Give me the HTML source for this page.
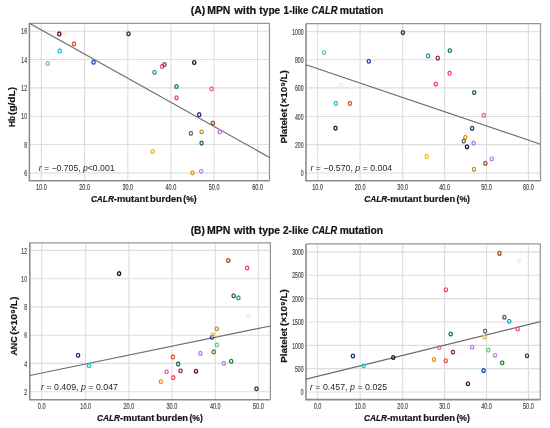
<!DOCTYPE html><html><head><meta charset="utf-8"><title>CALR scatter plots</title><style>
html,body{margin:0;padding:0;background:#fff;}svg{display:block;}
.tk{font-family:"Liberation Sans", Arial, sans-serif;font-size:9.2px;fill:#444;stroke:#444;stroke-width:0.18px;}
.lb{font-family:"Liberation Sans", Arial, sans-serif;font-size:9.6px;font-weight:bold;fill:#151515;stroke:#151515;stroke-width:0.2px;}
.rt{font-family:"Liberation Sans", Arial, sans-serif;font-size:8.8px;fill:#262626;}
</style></head><body>
<svg width="550" height="428" viewBox="0 0 550 428">
<rect width="550" height="428" fill="#fff"/>
<text class="lb" x="190.7" y="13.6" textLength="14.6" lengthAdjust="spacingAndGlyphs" style="font-size:10px">(A)</text>
<text class="lb" x="207.2" y="13.6" textLength="23.2" lengthAdjust="spacingAndGlyphs" style="font-size:10px">MPN</text>
<text class="lb" x="234.3" y="13.6" textLength="22.0" lengthAdjust="spacingAndGlyphs" style="font-size:10px">with</text>
<text class="lb" x="259.3" y="13.6" textLength="21.0" lengthAdjust="spacingAndGlyphs" style="font-size:10px">type</text>
<text class="lb" x="283.6" y="13.6" textLength="24.8" lengthAdjust="spacingAndGlyphs" style="font-size:10px">1-like</text>
<text class="lb" x="311.6" y="13.6" textLength="25.8" lengthAdjust="spacingAndGlyphs" style="font-size:10px;font-style:italic">CALR</text>
<text class="lb" x="339.7" y="13.6" textLength="43.7" lengthAdjust="spacingAndGlyphs" style="font-size:10px">mutation</text>
<text class="lb" x="190.7" y="233.7" textLength="14.1" lengthAdjust="spacingAndGlyphs" style="font-size:10px">(B)</text>
<text class="lb" x="207.0" y="233.7" textLength="23.4" lengthAdjust="spacingAndGlyphs" style="font-size:10px">MPN</text>
<text class="lb" x="233.9" y="233.7" textLength="21.9" lengthAdjust="spacingAndGlyphs" style="font-size:10px">with</text>
<text class="lb" x="258.8" y="233.7" textLength="21.3" lengthAdjust="spacingAndGlyphs" style="font-size:10px">type</text>
<text class="lb" x="283.0" y="233.7" textLength="25.6" lengthAdjust="spacingAndGlyphs" style="font-size:10px">2-like</text>
<text class="lb" x="311.9" y="233.7" textLength="25.3" lengthAdjust="spacingAndGlyphs" style="font-size:10px;font-style:italic">CALR</text>
<text class="lb" x="339.7" y="233.7" textLength="43.4" lengthAdjust="spacingAndGlyphs" style="font-size:10px">mutation</text>
<g>
<line x1="41.4" y1="23.3" x2="41.4" y2="180.8" stroke="#dedede" stroke-width="1.15"/>
<line x1="84.6" y1="23.3" x2="84.6" y2="180.8" stroke="#dedede" stroke-width="1.15"/>
<line x1="127.8" y1="23.3" x2="127.8" y2="180.8" stroke="#dedede" stroke-width="1.15"/>
<line x1="170.9" y1="23.3" x2="170.9" y2="180.8" stroke="#dedede" stroke-width="1.15"/>
<line x1="214.1" y1="23.3" x2="214.1" y2="180.8" stroke="#dedede" stroke-width="1.15"/>
<line x1="257.6" y1="23.3" x2="257.6" y2="180.8" stroke="#dedede" stroke-width="1.15"/>
<line x1="29.4" y1="31.2" x2="269.5" y2="31.2" stroke="#dedede" stroke-width="1.15"/>
<line x1="29.4" y1="59.5" x2="269.5" y2="59.5" stroke="#dedede" stroke-width="1.15"/>
<line x1="29.4" y1="87.8" x2="269.5" y2="87.8" stroke="#dedede" stroke-width="1.15"/>
<line x1="29.4" y1="116.2" x2="269.5" y2="116.2" stroke="#dedede" stroke-width="1.15"/>
<line x1="29.4" y1="144.5" x2="269.5" y2="144.5" stroke="#dedede" stroke-width="1.15"/>
<line x1="29.4" y1="172.8" x2="269.5" y2="172.8" stroke="#dedede" stroke-width="1.15"/>
<polyline points="29.4,23.3 269.5,23.3 269.5,180.8" fill="none" stroke="#969696" stroke-width="1.25"/>
<polyline points="29.4,23.3 29.4,180.8 269.5,180.8" fill="none" stroke="#8a8a8a" stroke-width="1.55"/>
<text class="tk" x="0.0" y="189.9" text-anchor="middle" transform="translate(41.4,0) scale(0.6,1) translate(0.0,0)">10.0</text>
<text class="tk" x="0.0" y="189.9" text-anchor="middle" transform="translate(84.6,0) scale(0.6,1) translate(0.0,0)">20.0</text>
<text class="tk" x="0.0" y="189.9" text-anchor="middle" transform="translate(127.8,0) scale(0.6,1) translate(0.0,0)">30.0</text>
<text class="tk" x="0.0" y="189.9" text-anchor="middle" transform="translate(170.9,0) scale(0.6,1) translate(0.0,0)">40.0</text>
<text class="tk" x="0.0" y="189.9" text-anchor="middle" transform="translate(214.1,0) scale(0.6,1) translate(0.0,0)">50.0</text>
<text class="tk" x="0.0" y="189.9" text-anchor="middle" transform="translate(257.6,0) scale(0.6,1) translate(0.0,0)">60.0</text>
<text class="tk" x="0" y="34.5" text-anchor="end" transform="translate(27.0,0) scale(0.56,1)">16</text>
<text class="tk" x="0" y="62.8" text-anchor="end" transform="translate(27.0,0) scale(0.56,1)">14</text>
<text class="tk" x="0" y="91.1" text-anchor="end" transform="translate(27.0,0) scale(0.56,1)">12</text>
<text class="tk" x="0" y="119.5" text-anchor="end" transform="translate(27.0,0) scale(0.56,1)">10</text>
<text class="tk" x="0" y="147.8" text-anchor="end" transform="translate(27.0,0) scale(0.56,1)">8</text>
<text class="tk" x="0" y="176.1" text-anchor="end" transform="translate(27.0,0) scale(0.56,1)">6</text>
<line x1="29.4" y1="23.2" x2="269.5" y2="157.4" stroke="#6c6c6c" stroke-width="1.2"/>
<ellipse cx="59.3" cy="33.9" rx="1.62" ry="1.9" fill="none" stroke="#5e0c1a" stroke-width="1.35"/>
<ellipse cx="64.9" cy="32.5" rx="1.62" ry="1.9" fill="none" stroke="#f2ecd4" stroke-width="1.35"/>
<ellipse cx="74.0" cy="43.9" rx="1.62" ry="1.9" fill="none" stroke="#e05530" stroke-width="1.35"/>
<ellipse cx="59.7" cy="50.9" rx="1.62" ry="1.9" fill="none" stroke="#20c4d4" stroke-width="1.35"/>
<ellipse cx="47.7" cy="63.5" rx="1.62" ry="1.9" fill="none" stroke="#5ccf98" stroke-width="1.35"/>
<ellipse cx="93.5" cy="62.2" rx="1.62" ry="1.9" fill="none" stroke="#2040c0" stroke-width="1.35"/>
<ellipse cx="128.5" cy="33.7" rx="1.62" ry="1.9" fill="none" stroke="#303030" stroke-width="1.35"/>
<ellipse cx="154.5" cy="72.3" rx="1.62" ry="1.9" fill="none" stroke="#20a0a8" stroke-width="1.35"/>
<ellipse cx="162.1" cy="66.4" rx="1.62" ry="1.9" fill="none" stroke="#f05060" stroke-width="1.35"/>
<ellipse cx="164.5" cy="64.5" rx="1.62" ry="1.9" fill="none" stroke="#a0206c" stroke-width="1.35"/>
<ellipse cx="194.2" cy="62.5" rx="1.62" ry="1.9" fill="none" stroke="#181818" stroke-width="1.35"/>
<ellipse cx="176.5" cy="86.5" rx="1.62" ry="1.9" fill="none" stroke="#208040" stroke-width="1.35"/>
<ellipse cx="211.6" cy="88.9" rx="1.62" ry="1.9" fill="none" stroke="#f060a0" stroke-width="1.35"/>
<ellipse cx="176.5" cy="97.8" rx="1.62" ry="1.9" fill="none" stroke="#f04858" stroke-width="1.35"/>
<ellipse cx="199.2" cy="114.7" rx="1.62" ry="1.9" fill="none" stroke="#223a62" stroke-width="1.35"/>
<ellipse cx="212.9" cy="123.0" rx="1.62" ry="1.9" fill="none" stroke="#a0481a" stroke-width="1.35"/>
<ellipse cx="219.7" cy="131.8" rx="1.62" ry="1.9" fill="none" stroke="#c070f0" stroke-width="1.35"/>
<ellipse cx="190.9" cy="133.3" rx="1.62" ry="1.9" fill="none" stroke="#687050" stroke-width="1.35"/>
<ellipse cx="201.6" cy="131.8" rx="1.62" ry="1.9" fill="none" stroke="#c09622" stroke-width="1.35"/>
<ellipse cx="201.6" cy="143.1" rx="1.62" ry="1.9" fill="none" stroke="#206868" stroke-width="1.35"/>
<ellipse cx="152.7" cy="151.6" rx="1.62" ry="1.9" fill="none" stroke="#e8c020" stroke-width="1.35"/>
<ellipse cx="192.4" cy="172.8" rx="1.62" ry="1.9" fill="none" stroke="#f09020" stroke-width="1.35"/>
<ellipse cx="201.1" cy="171.3" rx="1.62" ry="1.9" fill="none" stroke="#c080f0" stroke-width="1.35"/>
<text class="rt" x="38.8" y="171.3" textLength="75.7" lengthAdjust="spacingAndGlyphs"><tspan font-style="italic">r</tspan> = −0.705, <tspan font-style="italic">p</tspan><0.001</text>
<text class="lb" x="90.9" y="201.9" textLength="23.0" lengthAdjust="spacingAndGlyphs" style="font-size:9.5px;font-style:italic">CALR</text>
<text class="lb" x="113.8" y="201.9" textLength="34.5" lengthAdjust="spacingAndGlyphs" style="font-size:9.5px">-mutant</text>
<text class="lb" x="150.1" y="201.9" textLength="31.8" lengthAdjust="spacingAndGlyphs" style="font-size:9.5px">burden</text>
<text class="lb" x="183.3" y="201.9" textLength="13.4" lengthAdjust="spacingAndGlyphs" style="font-size:9.5px">(%)</text>
<text class="lb" x="0" y="0" transform="translate(14.7,127.0) rotate(-90)" textLength="11.1" lengthAdjust="spacingAndGlyphs" style="font-size:9.6px">Hb</text>
<text class="lb" x="0" y="0" transform="translate(14.7,114.9) rotate(-90)" textLength="27.9" lengthAdjust="spacingAndGlyphs" style="font-size:9.6px">(g/dL)</text>
</g>
<g>
<line x1="317.6" y1="23.7" x2="317.6" y2="180.7" stroke="#dedede" stroke-width="1.15"/>
<line x1="360.1" y1="23.7" x2="360.1" y2="180.7" stroke="#dedede" stroke-width="1.15"/>
<line x1="402.7" y1="23.7" x2="402.7" y2="180.7" stroke="#dedede" stroke-width="1.15"/>
<line x1="444.6" y1="23.7" x2="444.6" y2="180.7" stroke="#dedede" stroke-width="1.15"/>
<line x1="486.5" y1="23.7" x2="486.5" y2="180.7" stroke="#dedede" stroke-width="1.15"/>
<line x1="528.4" y1="23.7" x2="528.4" y2="180.7" stroke="#dedede" stroke-width="1.15"/>
<line x1="306.0" y1="31.6" x2="540.5" y2="31.6" stroke="#dedede" stroke-width="1.15"/>
<line x1="306.0" y1="59.7" x2="540.5" y2="59.7" stroke="#dedede" stroke-width="1.15"/>
<line x1="306.0" y1="87.8" x2="540.5" y2="87.8" stroke="#dedede" stroke-width="1.15"/>
<line x1="306.0" y1="116.5" x2="540.5" y2="116.5" stroke="#dedede" stroke-width="1.15"/>
<line x1="306.0" y1="144.6" x2="540.5" y2="144.6" stroke="#dedede" stroke-width="1.15"/>
<line x1="306.0" y1="173.0" x2="540.5" y2="173.0" stroke="#dedede" stroke-width="1.15"/>
<polyline points="306.0,23.7 540.5,23.7 540.5,180.7" fill="none" stroke="#969696" stroke-width="1.25"/>
<polyline points="306.0,23.7 306.0,180.7 540.5,180.7" fill="none" stroke="#8a8a8a" stroke-width="1.55"/>
<text class="tk" x="0.0" y="189.8" text-anchor="middle" transform="translate(317.6,0) scale(0.6,1) translate(0.0,0)">10.0</text>
<text class="tk" x="0.0" y="189.8" text-anchor="middle" transform="translate(360.1,0) scale(0.6,1) translate(0.0,0)">20.0</text>
<text class="tk" x="0.0" y="189.8" text-anchor="middle" transform="translate(402.7,0) scale(0.6,1) translate(0.0,0)">30.0</text>
<text class="tk" x="0.0" y="189.8" text-anchor="middle" transform="translate(444.6,0) scale(0.6,1) translate(0.0,0)">40.0</text>
<text class="tk" x="0.0" y="189.8" text-anchor="middle" transform="translate(486.5,0) scale(0.6,1) translate(0.0,0)">50.0</text>
<text class="tk" x="0.0" y="189.8" text-anchor="middle" transform="translate(528.4,0) scale(0.6,1) translate(0.0,0)">60.0</text>
<text class="tk" x="0" y="34.9" text-anchor="end" transform="translate(303.6,0) scale(0.56,1)">1000</text>
<text class="tk" x="0" y="63.0" text-anchor="end" transform="translate(303.6,0) scale(0.56,1)">800</text>
<text class="tk" x="0" y="91.1" text-anchor="end" transform="translate(303.6,0) scale(0.56,1)">600</text>
<text class="tk" x="0" y="119.8" text-anchor="end" transform="translate(303.6,0) scale(0.56,1)">400</text>
<text class="tk" x="0" y="147.9" text-anchor="end" transform="translate(303.6,0) scale(0.56,1)">200</text>
<text class="tk" x="0" y="176.3" text-anchor="end" transform="translate(303.6,0) scale(0.56,1)">0</text>
<line x1="306.0" y1="64.7" x2="540.5" y2="144.2" stroke="#6c6c6c" stroke-width="1.2"/>
<ellipse cx="402.9" cy="32.6" rx="1.62" ry="1.9" fill="none" stroke="#303030" stroke-width="1.35"/>
<ellipse cx="324.1" cy="52.5" rx="1.62" ry="1.9" fill="none" stroke="#5ccf98" stroke-width="1.35"/>
<ellipse cx="368.8" cy="61.2" rx="1.62" ry="1.9" fill="none" stroke="#2040c0" stroke-width="1.35"/>
<ellipse cx="340.9" cy="85.4" rx="1.62" ry="1.9" fill="none" stroke="#f2ecd4" stroke-width="1.35"/>
<ellipse cx="335.9" cy="103.4" rx="1.62" ry="1.9" fill="none" stroke="#20c4d4" stroke-width="1.35"/>
<ellipse cx="349.9" cy="103.4" rx="1.62" ry="1.9" fill="none" stroke="#e05530" stroke-width="1.35"/>
<ellipse cx="428.2" cy="55.9" rx="1.62" ry="1.9" fill="none" stroke="#20a0a8" stroke-width="1.35"/>
<ellipse cx="437.8" cy="58.1" rx="1.62" ry="1.9" fill="none" stroke="#a0206c" stroke-width="1.35"/>
<ellipse cx="449.8" cy="50.5" rx="1.62" ry="1.9" fill="none" stroke="#208040" stroke-width="1.35"/>
<ellipse cx="449.6" cy="73.2" rx="1.62" ry="1.9" fill="none" stroke="#f05060" stroke-width="1.35"/>
<ellipse cx="435.8" cy="84.1" rx="1.62" ry="1.9" fill="none" stroke="#f04858" stroke-width="1.35"/>
<ellipse cx="474.2" cy="92.6" rx="1.62" ry="1.9" fill="none" stroke="#206868" stroke-width="1.35"/>
<ellipse cx="335.5" cy="128.1" rx="1.62" ry="1.9" fill="none" stroke="#5e0c1a" stroke-width="1.35"/>
<ellipse cx="483.8" cy="115.4" rx="1.62" ry="1.9" fill="none" stroke="#f060a0" stroke-width="1.35"/>
<ellipse cx="472.1" cy="128.3" rx="1.62" ry="1.9" fill="none" stroke="#223a62" stroke-width="1.35"/>
<ellipse cx="465.3" cy="137.4" rx="1.62" ry="1.9" fill="none" stroke="#f09020" stroke-width="1.35"/>
<ellipse cx="463.8" cy="141.1" rx="1.62" ry="1.9" fill="none" stroke="#687050" stroke-width="1.35"/>
<ellipse cx="473.6" cy="143.1" rx="1.62" ry="1.9" fill="none" stroke="#c070f0" stroke-width="1.35"/>
<ellipse cx="467.0" cy="146.8" rx="1.62" ry="1.9" fill="none" stroke="#181818" stroke-width="1.35"/>
<ellipse cx="426.7" cy="156.4" rx="1.62" ry="1.9" fill="none" stroke="#e8c020" stroke-width="1.35"/>
<ellipse cx="491.7" cy="158.8" rx="1.62" ry="1.9" fill="none" stroke="#c080f0" stroke-width="1.35"/>
<ellipse cx="485.4" cy="163.2" rx="1.62" ry="1.9" fill="none" stroke="#a0481a" stroke-width="1.35"/>
<ellipse cx="474.0" cy="169.3" rx="1.62" ry="1.9" fill="none" stroke="#c09622" stroke-width="1.35"/>
<text class="rt" x="310.4" y="170.8" textLength="81.8" lengthAdjust="spacingAndGlyphs"><tspan font-style="italic">r</tspan> = −0.570, <tspan font-style="italic">p</tspan> = 0.004</text>
<text class="lb" x="364.2" y="202.0" textLength="23.0" lengthAdjust="spacingAndGlyphs" style="font-size:9.5px;font-style:italic">CALR</text>
<text class="lb" x="387.1" y="202.0" textLength="34.5" lengthAdjust="spacingAndGlyphs" style="font-size:9.5px">-mutant</text>
<text class="lb" x="423.4" y="202.0" textLength="31.8" lengthAdjust="spacingAndGlyphs" style="font-size:9.5px">burden</text>
<text class="lb" x="456.6" y="202.0" textLength="13.4" lengthAdjust="spacingAndGlyphs" style="font-size:9.5px">(%)</text>
<text class="lb" x="0" y="0" transform="translate(286.9,143.5) rotate(-90)" textLength="34.8" lengthAdjust="spacingAndGlyphs" style="font-size:9.6px">Platelet</text>
<text class="lb" x="0" y="0" transform="translate(286.9,106.9) rotate(-90)" textLength="36.8" lengthAdjust="spacingAndGlyphs" style="font-size:9.6px">(×10⁹/L)</text>
</g>
<g>
<line x1="41.7" y1="242.8" x2="41.7" y2="399.8" stroke="#dedede" stroke-width="1.15"/>
<line x1="85.7" y1="242.8" x2="85.7" y2="399.8" stroke="#dedede" stroke-width="1.15"/>
<line x1="128.9" y1="242.8" x2="128.9" y2="399.8" stroke="#dedede" stroke-width="1.15"/>
<line x1="171.9" y1="242.8" x2="171.9" y2="399.8" stroke="#dedede" stroke-width="1.15"/>
<line x1="215.3" y1="242.8" x2="215.3" y2="399.8" stroke="#dedede" stroke-width="1.15"/>
<line x1="258.4" y1="242.8" x2="258.4" y2="399.8" stroke="#dedede" stroke-width="1.15"/>
<line x1="29.8" y1="250.3" x2="270.4" y2="250.3" stroke="#dedede" stroke-width="1.15"/>
<line x1="29.8" y1="278.7" x2="270.4" y2="278.7" stroke="#dedede" stroke-width="1.15"/>
<line x1="29.8" y1="306.9" x2="270.4" y2="306.9" stroke="#dedede" stroke-width="1.15"/>
<line x1="29.8" y1="335.2" x2="270.4" y2="335.2" stroke="#dedede" stroke-width="1.15"/>
<line x1="29.8" y1="363.4" x2="270.4" y2="363.4" stroke="#dedede" stroke-width="1.15"/>
<line x1="29.8" y1="391.7" x2="270.4" y2="391.7" stroke="#dedede" stroke-width="1.15"/>
<polyline points="29.8,242.8 270.4,242.8 270.4,399.8" fill="none" stroke="#969696" stroke-width="1.25"/>
<polyline points="29.8,242.8 29.8,399.8 270.4,399.8" fill="none" stroke="#8a8a8a" stroke-width="1.55"/>
<text class="tk" x="0.0" y="408.9" text-anchor="middle" transform="translate(41.7,0) scale(0.6,1) translate(0.0,0)">0.0</text>
<text class="tk" x="0.0" y="408.9" text-anchor="middle" transform="translate(85.7,0) scale(0.6,1) translate(0.0,0)">10.0</text>
<text class="tk" x="0.0" y="408.9" text-anchor="middle" transform="translate(128.9,0) scale(0.6,1) translate(0.0,0)">20.0</text>
<text class="tk" x="0.0" y="408.9" text-anchor="middle" transform="translate(171.9,0) scale(0.6,1) translate(0.0,0)">30.0</text>
<text class="tk" x="0.0" y="408.9" text-anchor="middle" transform="translate(215.3,0) scale(0.6,1) translate(0.0,0)">40.0</text>
<text class="tk" x="0.0" y="408.9" text-anchor="middle" transform="translate(258.4,0) scale(0.6,1) translate(0.0,0)">50.0</text>
<text class="tk" x="0" y="253.6" text-anchor="end" transform="translate(27.0,0) scale(0.56,1)">12</text>
<text class="tk" x="0" y="282.0" text-anchor="end" transform="translate(27.0,0) scale(0.56,1)">10</text>
<text class="tk" x="0" y="310.2" text-anchor="end" transform="translate(27.0,0) scale(0.56,1)">8</text>
<text class="tk" x="0" y="338.5" text-anchor="end" transform="translate(27.0,0) scale(0.56,1)">6</text>
<text class="tk" x="0" y="366.7" text-anchor="end" transform="translate(27.0,0) scale(0.56,1)">4</text>
<text class="tk" x="0" y="395.0" text-anchor="end" transform="translate(27.0,0) scale(0.56,1)">2</text>
<line x1="29.8" y1="375.5" x2="270.4" y2="326.0" stroke="#6c6c6c" stroke-width="1.2"/>
<ellipse cx="119.1" cy="273.6" rx="1.62" ry="1.9" fill="none" stroke="#181818" stroke-width="1.35"/>
<ellipse cx="228.3" cy="260.5" rx="1.62" ry="1.9" fill="none" stroke="#a0481a" stroke-width="1.35"/>
<ellipse cx="247.1" cy="268.0" rx="1.62" ry="1.9" fill="none" stroke="#f04858" stroke-width="1.35"/>
<ellipse cx="233.6" cy="295.7" rx="1.62" ry="1.9" fill="none" stroke="#505050" stroke-width="1.35"/>
<ellipse cx="238.4" cy="297.9" rx="1.62" ry="1.9" fill="none" stroke="#20a0a8" stroke-width="1.35"/>
<ellipse cx="248.4" cy="316.0" rx="1.62" ry="1.9" fill="none" stroke="#f2ecd4" stroke-width="1.35"/>
<ellipse cx="78.1" cy="355.3" rx="1.62" ry="1.9" fill="none" stroke="#1a2a80" stroke-width="1.35"/>
<ellipse cx="89.0" cy="365.8" rx="1.62" ry="1.9" fill="none" stroke="#20c4d4" stroke-width="1.35"/>
<ellipse cx="216.8" cy="328.7" rx="1.62" ry="1.9" fill="none" stroke="#c09622" stroke-width="1.35"/>
<ellipse cx="212.0" cy="337.2" rx="1.62" ry="1.9" fill="none" stroke="#2040c0" stroke-width="1.35"/>
<ellipse cx="212.8" cy="334.8" rx="1.62" ry="1.9" fill="none" stroke="#e8c020" stroke-width="1.35"/>
<ellipse cx="216.8" cy="344.9" rx="1.62" ry="1.9" fill="none" stroke="#5ccf98" stroke-width="1.35"/>
<ellipse cx="200.4" cy="353.4" rx="1.62" ry="1.9" fill="none" stroke="#c070f0" stroke-width="1.35"/>
<ellipse cx="213.7" cy="351.9" rx="1.62" ry="1.9" fill="none" stroke="#687050" stroke-width="1.35"/>
<ellipse cx="172.9" cy="356.9" rx="1.62" ry="1.9" fill="none" stroke="#e05530" stroke-width="1.35"/>
<ellipse cx="178.1" cy="363.9" rx="1.62" ry="1.9" fill="none" stroke="#206868" stroke-width="1.35"/>
<ellipse cx="223.8" cy="363.4" rx="1.62" ry="1.9" fill="none" stroke="#c080f0" stroke-width="1.35"/>
<ellipse cx="231.2" cy="361.2" rx="1.62" ry="1.9" fill="none" stroke="#208040" stroke-width="1.35"/>
<ellipse cx="166.6" cy="371.7" rx="1.62" ry="1.9" fill="none" stroke="#f060a0" stroke-width="1.35"/>
<ellipse cx="180.5" cy="370.8" rx="1.62" ry="1.9" fill="none" stroke="#a0206c" stroke-width="1.35"/>
<ellipse cx="196.0" cy="371.3" rx="1.62" ry="1.9" fill="none" stroke="#5e0c1a" stroke-width="1.35"/>
<ellipse cx="173.3" cy="377.6" rx="1.62" ry="1.9" fill="none" stroke="#f05060" stroke-width="1.35"/>
<ellipse cx="160.9" cy="381.5" rx="1.62" ry="1.9" fill="none" stroke="#f09020" stroke-width="1.35"/>
<ellipse cx="256.5" cy="388.7" rx="1.62" ry="1.9" fill="none" stroke="#223a62" stroke-width="1.35"/>
<text class="rt" x="41.0" y="389.8" textLength="77.0" lengthAdjust="spacingAndGlyphs"><tspan font-style="italic">r</tspan> = 0.409, <tspan font-style="italic">p</tspan> = 0.047</text>
<text class="lb" x="97.1" y="421.2" textLength="23.0" lengthAdjust="spacingAndGlyphs" style="font-size:9.5px;font-style:italic">CALR</text>
<text class="lb" x="120.0" y="421.2" textLength="34.5" lengthAdjust="spacingAndGlyphs" style="font-size:9.5px">-mutant</text>
<text class="lb" x="156.3" y="421.2" textLength="31.8" lengthAdjust="spacingAndGlyphs" style="font-size:9.5px">burden</text>
<text class="lb" x="189.5" y="421.2" textLength="13.4" lengthAdjust="spacingAndGlyphs" style="font-size:9.5px">(%)</text>
<text class="lb" x="0" y="0" transform="translate(16.5,355.6) rotate(-90)" textLength="19.3" lengthAdjust="spacingAndGlyphs" style="font-size:9.6px">ANC</text>
<text class="lb" x="0" y="0" transform="translate(16.5,334.8) rotate(-90)" textLength="38.3" lengthAdjust="spacingAndGlyphs" style="font-size:9.6px">(×10⁹/L)</text>
</g>
<g>
<line x1="317.5" y1="243.9" x2="317.5" y2="399.6" stroke="#dedede" stroke-width="1.15"/>
<line x1="360.1" y1="243.9" x2="360.1" y2="399.6" stroke="#dedede" stroke-width="1.15"/>
<line x1="402.7" y1="243.9" x2="402.7" y2="399.6" stroke="#dedede" stroke-width="1.15"/>
<line x1="444.6" y1="243.9" x2="444.6" y2="399.6" stroke="#dedede" stroke-width="1.15"/>
<line x1="486.5" y1="243.9" x2="486.5" y2="399.6" stroke="#dedede" stroke-width="1.15"/>
<line x1="528.4" y1="243.9" x2="528.4" y2="399.6" stroke="#dedede" stroke-width="1.15"/>
<line x1="306.0" y1="251.8" x2="540.3" y2="251.8" stroke="#dedede" stroke-width="1.15"/>
<line x1="306.0" y1="275.2" x2="540.3" y2="275.2" stroke="#dedede" stroke-width="1.15"/>
<line x1="306.0" y1="298.6" x2="540.3" y2="298.6" stroke="#dedede" stroke-width="1.15"/>
<line x1="306.0" y1="322.0" x2="540.3" y2="322.0" stroke="#dedede" stroke-width="1.15"/>
<line x1="306.0" y1="345.4" x2="540.3" y2="345.4" stroke="#dedede" stroke-width="1.15"/>
<line x1="306.0" y1="368.6" x2="540.3" y2="368.6" stroke="#dedede" stroke-width="1.15"/>
<line x1="306.0" y1="392.0" x2="540.3" y2="392.0" stroke="#dedede" stroke-width="1.15"/>
<polyline points="306.0,243.9 540.3,243.9 540.3,399.6" fill="none" stroke="#969696" stroke-width="1.25"/>
<polyline points="306.0,243.9 306.0,399.6 540.3,399.6" fill="none" stroke="#8a8a8a" stroke-width="1.55"/>
<text class="tk" x="0.0" y="408.7" text-anchor="middle" transform="translate(317.5,0) scale(0.6,1) translate(0.0,0)">0.0</text>
<text class="tk" x="0.0" y="408.7" text-anchor="middle" transform="translate(360.1,0) scale(0.6,1) translate(0.0,0)">10.0</text>
<text class="tk" x="0.0" y="408.7" text-anchor="middle" transform="translate(402.7,0) scale(0.6,1) translate(0.0,0)">20.0</text>
<text class="tk" x="0.0" y="408.7" text-anchor="middle" transform="translate(444.6,0) scale(0.6,1) translate(0.0,0)">30.0</text>
<text class="tk" x="0.0" y="408.7" text-anchor="middle" transform="translate(486.5,0) scale(0.6,1) translate(0.0,0)">40.0</text>
<text class="tk" x="0.0" y="408.7" text-anchor="middle" transform="translate(528.4,0) scale(0.6,1) translate(0.0,0)">50.0</text>
<text class="tk" x="0" y="255.1" text-anchor="end" transform="translate(303.6,0) scale(0.56,1)">3000</text>
<text class="tk" x="0" y="278.5" text-anchor="end" transform="translate(303.6,0) scale(0.56,1)">2500</text>
<text class="tk" x="0" y="301.9" text-anchor="end" transform="translate(303.6,0) scale(0.56,1)">2000</text>
<text class="tk" x="0" y="325.3" text-anchor="end" transform="translate(303.6,0) scale(0.56,1)">1500</text>
<text class="tk" x="0" y="348.7" text-anchor="end" transform="translate(303.6,0) scale(0.56,1)">1000</text>
<text class="tk" x="0" y="371.9" text-anchor="end" transform="translate(303.6,0) scale(0.56,1)">500</text>
<text class="tk" x="0" y="395.3" text-anchor="end" transform="translate(303.6,0) scale(0.56,1)">0</text>
<line x1="306.0" y1="379.1" x2="540.3" y2="321.6" stroke="#6c6c6c" stroke-width="1.2"/>
<ellipse cx="499.5" cy="253.3" rx="1.62" ry="1.9" fill="none" stroke="#a0481a" stroke-width="1.35"/>
<ellipse cx="519.0" cy="260.8" rx="1.62" ry="1.9" fill="none" stroke="#f2ecd4" stroke-width="1.35"/>
<ellipse cx="445.9" cy="289.8" rx="1.62" ry="1.9" fill="none" stroke="#f04858" stroke-width="1.35"/>
<ellipse cx="504.4" cy="317.3" rx="1.62" ry="1.9" fill="none" stroke="#505050" stroke-width="1.35"/>
<ellipse cx="509.2" cy="321.3" rx="1.62" ry="1.9" fill="none" stroke="#20a0a8" stroke-width="1.35"/>
<ellipse cx="352.9" cy="356.0" rx="1.62" ry="1.9" fill="none" stroke="#1a2a80" stroke-width="1.35"/>
<ellipse cx="363.6" cy="365.8" rx="1.62" ry="1.9" fill="none" stroke="#20c4d4" stroke-width="1.35"/>
<ellipse cx="393.3" cy="357.5" rx="1.62" ry="1.9" fill="none" stroke="#181818" stroke-width="1.35"/>
<ellipse cx="517.7" cy="328.9" rx="1.62" ry="1.9" fill="none" stroke="#f05060" stroke-width="1.35"/>
<ellipse cx="485.1" cy="331.1" rx="1.62" ry="1.9" fill="none" stroke="#687050" stroke-width="1.35"/>
<ellipse cx="484.5" cy="337.2" rx="1.62" ry="1.9" fill="none" stroke="#e8c020" stroke-width="1.35"/>
<ellipse cx="450.7" cy="334.0" rx="1.62" ry="1.9" fill="none" stroke="#206868" stroke-width="1.35"/>
<ellipse cx="439.3" cy="347.5" rx="1.62" ry="1.9" fill="none" stroke="#f060a0" stroke-width="1.35"/>
<ellipse cx="472.1" cy="347.3" rx="1.62" ry="1.9" fill="none" stroke="#c070f0" stroke-width="1.35"/>
<ellipse cx="488.2" cy="350.1" rx="1.62" ry="1.9" fill="none" stroke="#5ccf98" stroke-width="1.35"/>
<ellipse cx="452.9" cy="352.1" rx="1.62" ry="1.9" fill="none" stroke="#a0206c" stroke-width="1.35"/>
<ellipse cx="495.0" cy="355.3" rx="1.62" ry="1.9" fill="none" stroke="#c080f0" stroke-width="1.35"/>
<ellipse cx="527.0" cy="355.8" rx="1.62" ry="1.9" fill="none" stroke="#223a62" stroke-width="1.35"/>
<ellipse cx="433.9" cy="359.5" rx="1.62" ry="1.9" fill="none" stroke="#f09020" stroke-width="1.35"/>
<ellipse cx="445.7" cy="360.8" rx="1.62" ry="1.9" fill="none" stroke="#e05530" stroke-width="1.35"/>
<ellipse cx="502.2" cy="362.8" rx="1.62" ry="1.9" fill="none" stroke="#208040" stroke-width="1.35"/>
<ellipse cx="483.6" cy="370.6" rx="1.62" ry="1.9" fill="none" stroke="#2040c0" stroke-width="1.35"/>
<ellipse cx="467.9" cy="383.7" rx="1.62" ry="1.9" fill="none" stroke="#5e0c1a" stroke-width="1.35"/>
<text class="rt" x="309.9" y="390.3" textLength="77.3" lengthAdjust="spacingAndGlyphs"><tspan font-style="italic">r</tspan> = 0.457, <tspan font-style="italic">p</tspan> = 0.025</text>
<text class="lb" x="364.0" y="421.2" textLength="23.0" lengthAdjust="spacingAndGlyphs" style="font-size:9.5px;font-style:italic">CALR</text>
<text class="lb" x="386.9" y="421.2" textLength="34.5" lengthAdjust="spacingAndGlyphs" style="font-size:9.5px">-mutant</text>
<text class="lb" x="423.2" y="421.2" textLength="31.8" lengthAdjust="spacingAndGlyphs" style="font-size:9.5px">burden</text>
<text class="lb" x="456.4" y="421.2" textLength="13.4" lengthAdjust="spacingAndGlyphs" style="font-size:9.5px">(%)</text>
<text class="lb" x="0" y="0" transform="translate(286.9,362.7) rotate(-90)" textLength="34.8" lengthAdjust="spacingAndGlyphs" style="font-size:9.6px">Platelet</text>
<text class="lb" x="0" y="0" transform="translate(286.9,326.1) rotate(-90)" textLength="37.0" lengthAdjust="spacingAndGlyphs" style="font-size:9.6px">(×10⁹/L)</text>
</g>
</svg></body></html>
